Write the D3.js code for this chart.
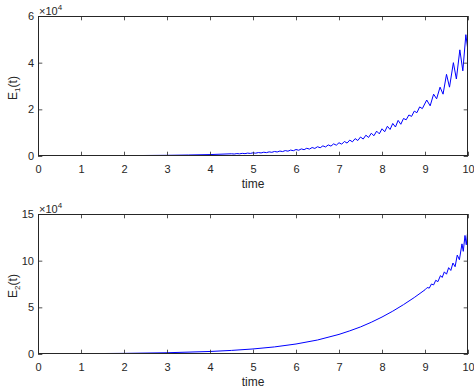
<!DOCTYPE html>
<html>
<head>
<meta charset="utf-8">
<script src="https://cdn.jsdelivr.net/npm/d3@7"></script>
<style>
  html, body { margin: 0; padding: 0; background: #fff; }
  svg { display: block; font-family: "Liberation Sans", Arial, Helvetica, sans-serif; }
</style>
</head>
<body>
<svg id="chart" width="474" height="389"></svg>
<script>
// ---- Data ----
const xTicks = [0, 1, 2, 3, 4, 5, 6, 7, 8, 9, 10];
const y1Ticks = [0, 20000, 40000, 60000];
const y2Ticks = [0, 50000, 100000, 150000];
const xLabel = "time";

// E1(t): [time, value]
const e1Points = [
  [0, 35], [1, 71], [2, 146], [3, 300], [3.5, 430], [4, 612],
  [4.5, 946], [4.5625, 843], [4.625, 1035], [4.6875, 922], [4.75, 1132], [4.8125, 1008],
  [4.875, 1238], [4.9375, 1103], [5.0, 1354], [5.0625, 1206], [5.125, 1481], [5.1875, 1319],
  [5.25, 1620], [5.3125, 1443], [5.375, 1772], [5.4375, 1579], [5.5, 1939], [5.5625, 1727],
  [5.625, 2120], [5.6875, 1889], [5.75, 2319], [5.8125, 2066], [5.875, 2537], [5.9375, 2260],
  [6.0, 2776], [6.0625, 2473], [6.125, 3036], [6.1875, 2705], [6.25, 3321], [6.3125, 2959],
  [6.375, 3632], [6.4375, 3236], [6.5, 3973], [6.5625, 3540], [6.625, 4346], [6.6875, 3872],
  [6.75, 4754], [6.8125, 4236], [6.875, 5200], [6.9375, 4633], [7.0, 5688], [7.0625, 5068],
  [7.125, 6222], [7.1875, 5544], [7.25, 6806], [7.3125, 6064], [7.375, 7444], [7.4375, 6633],
  [7.5, 8143], [7.5625, 7255], [7.625, 8908], [7.6875, 7937], [7.75, 9744], [7.8125, 8681],
  [7.875, 10659], [7.9375, 9496], [8.0, 11659], [8.0625, 10387], [8.125, 12753], [8.1875, 11362],
  [8.25, 13950], [8.3125, 12428], [8.375, 15259], [8.4375, 13595], [8.5, 16073], [8.5625, 15517],
  [8.625, 17582], [8.6875, 16974], [8.75, 19232], [8.8125, 18567], [8.875, 21037], [8.9375, 20310],
  [9.04, 24000], [9.12, 21500], [9.20, 26500], [9.27, 24500], [9.35, 29500], [9.42, 26500],
  [9.50, 35000], [9.57, 29500], [9.66, 40000], [9.73, 33000], [9.81, 45500], [9.88, 36500],
  [9.95, 52000], [10.0, 45000]
];

// E2(t): [time, value]
const e2Points = [
  [0, 170], [1, 340], [2, 680], [3, 1350], [4, 2700], [4.5, 3850], [5, 5400], [5.5, 7600],
  [6, 10700], [6.5, 15000], [7, 21000], [7.25, 24800], [7.5, 29000], [7.75, 34000],
  [8, 39600], [8.25, 45900], [8.5, 52900], [8.75, 60500], [9, 68800],
  [9.05, 71200], [9.1, 70600], [9.15, 75000], [9.2, 74000], [9.25, 79000], [9.3, 77500],
  [9.36, 84000], [9.4, 82000], [9.45, 88000], [9.5, 85500], [9.55, 92500], [9.6, 89500],
  [9.65, 97500], [9.7, 93500], [9.75, 106000], [9.8, 101000], [9.86, 118000], [9.89, 110000],
  [9.93, 127000], [9.96, 117000], [9.985, 128000], [10, 124000]
];

// ---- Drawing ----
const svg = d3.select("#chart");
const axisColor = "#262626";
const left = 38, right = 468;

const x = d3.scaleLinear().domain([0, 10]).range([left, right]);

function panel(top, bottom, yMax, yTicks, points, sub, id) {
  const y = d3.scaleLinear().domain([0, yMax]).range([bottom, top]);
  const g = svg.append("g");

  svg.append("clipPath").attr("id", "clip" + id)
    .append("rect").attr("x", left).attr("y", top).attr("width", right - left).attr("height", bottom - top);

  // data line
  g.append("path")
    .datum(points)
    .attr("clip-path", "url(#clip" + id + ")")
    .attr("fill", "none")
    .attr("stroke", "#0000ff")
    .attr("stroke-width", 1)
    .attr("stroke-linejoin", "round")
    .attr("d", d3.line().x(d => x(d[0])).y(d => y(d[1])));

  const tl = 4.3;
  const ax = g.append("g").attr("transform", `translate(0,${bottom})`)
    .call(d3.axisBottom(x).tickValues(xTicks).tickFormat(d3.format("d")).tickSizeInner(-tl).tickSizeOuter(0).tickPadding(9));
  const axT = g.append("g").attr("transform", `translate(0,${top})`)
    .call(d3.axisTop(x).tickValues(xTicks).tickFormat("").tickSizeInner(-tl).tickSizeOuter(0));
  const ay = g.append("g").attr("transform", `translate(${left},0)`)
    .call(d3.axisLeft(y).tickValues(yTicks).tickFormat(d => d3.format("d")(d / 1e4)).tickSizeInner(-tl).tickSizeOuter(0).tickPadding(4));
  const ayR = g.append("g").attr("transform", `translate(${right},0)`)
    .call(d3.axisRight(y).tickValues(yTicks).tickFormat("").tickSizeInner(-tl).tickSizeOuter(0));

  [ax, axT, ay, ayR].forEach(a => {
    a.selectAll(".domain").remove();
    a.selectAll("line").attr("stroke", axisColor).attr("stroke-width", 0.8);
    a.selectAll("text").attr("fill", axisColor).style("font-size", "11px")
      .style("font-family", '"Liberation Sans", Arial, sans-serif');
  });

  g.append("rect")
    .attr("x", left + 0.5).attr("y", top + 0.5)
    .attr("width", right - left - 1).attr("height", bottom - top - 1)
    .attr("fill", "none").attr("stroke", axisColor).attr("stroke-width", 1);

  const ex = g.append("text").attr("x", 39).attr("y", top - 1.5)
    .attr("fill", axisColor).style("font-size", "11px");
  ex.append("tspan").text("\u00d710");
  ex.append("tspan").attr("dy", -5).style("font-size", "8px").text("4");

  g.append("text").attr("x", (left + right) / 2).attr("y", bottom + 32)
    .attr("text-anchor", "middle").attr("fill", axisColor).style("font-size", "12px").text(xLabel);

  const cy = (top + bottom) / 2 + 2;
  const yl = g.append("text").attr("transform", `translate(17,${cy}) rotate(-90)`)
    .attr("text-anchor", "middle").attr("fill", axisColor).style("font-size", "12px");
  yl.append("tspan").text("E");
  yl.append("tspan").attr("dy", 3).style("font-size", "8px").text(sub);
  yl.append("tspan").attr("dy", -3).text("(t)");
}

panel(16, 156, 60000, y1Ticks, e1Points, "1", 1);
panel(214, 354, 150000, y2Ticks, e2Points, "2", 2);
</script>
</body>
</html>
